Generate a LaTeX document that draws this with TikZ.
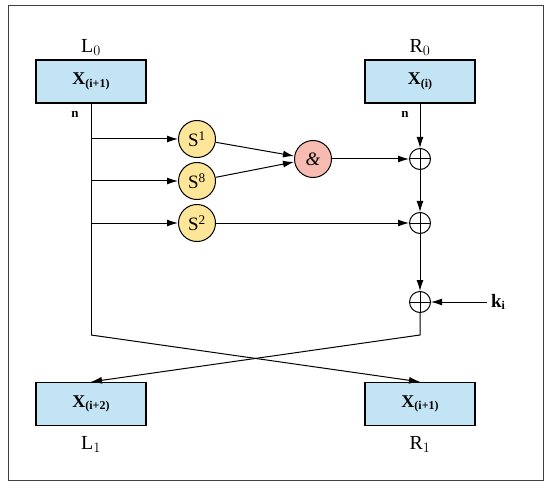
\documentclass[tikz,border=0pt]{standalone}
\usepackage{fontspec}
\setmainfont{Liberation Serif}
\usetikzlibrary{arrows.meta}
\definecolor{wordblue}{RGB}{195,228,245}
\definecolor{sboxyellow}{RGB}{254,230,152}
\definecolor{andpink}{RGB}{247,187,177}
\newcommand{\wsub}[1]{\raisebox{-0.3ex}{\fontsize{12}{14}\selectfont #1}}

\begin{document}
\begin{tikzpicture}[x=1bp, y=-1bp, line width=1bp, >={Latex[length=11bp,width=7bp]},
        word/.style={draw, line width=1.3bp, fill=wordblue, minimum width=110bp, minimum height=43bp,
            font=\fontsize{18}{20}\selectfont\bfseries},
        sbox/.style={draw, circle, fill=sboxyellow, minimum size=37bp, inner sep=0pt,
            font=\fontsize{19}{22}\selectfont},
        andop/.style={sbox, fill=andpink},
        xorop/.style={draw, circle, minimum size=21bp, inner sep=0pt,
            path picture={\draw (path picture bounding box.north) -- (path picture bounding box.south)
                (path picture bounding box.west) -- (path picture bounding box.east);}},
        half/.style={font=\fontsize{20}{23}\selectfont},
        bitlabel/.style={font=\fontsize{13}{15}\selectfont\bfseries}]
        \useasboundingbox (0,0) rectangle (550,491);
        \draw[black!75] (8,6) rectangle (543,480);

        % words
        \node[word] (L0box) at (91,81.5) {X\wsub{(i+1)}};
        \node[word] (R0box) at (420,81.5) {X\wsub{(i)}};
        \node[word] (L1box) at (91,404) {X\wsub{(i+2)}};
        \node[word] (R1box) at (420,404) {X\wsub{(i+1)}};

        \node[half, above=0bp] (L0) at (L0box.north) {$\mathrm{L}_0$};
        \node[half, above=0bp] (R0) at (R0box.north) {$\mathrm{R}_0$};
        \node[half, below=6bp] (L1) at (L1box.south) {$\mathrm{L}_1$};
        \node[half, below=6bp] (R1) at (R1box.south) {$\mathrm{R}_1$};

        \node[bitlabel] (nL) at (75,114) {n};
        \node[bitlabel] (nR) at (405,114) {n};

        % round function
        \node[sbox] (s1) at (197,139) {S\textsuperscript{1}};
        \node[sbox] (s8) at (197,181) {S\textsuperscript{8}};
        \node[sbox] (s2) at (197,223) {S\textsuperscript{2}};
        \node[andop] (and) at (313,159) {\textit{\&}};

        \node[xorop] (x1) at (420,159) {};
        \node[xorop] (x2) at (420,223) {};
        \node[xorop] (x3) at (420,302) {};
        \node[font=\fontsize{19}{22}\selectfont\bfseries] (ki) at (498,302) {k\wsub{i}};

        \coordinate (lturn) at (91,335);
        \coordinate (rturn) at (420,335);

        \draw (L0box.south) -- (lturn);
        \foreach \s in {s1,s8,s2}
            \draw[->] (L0box.south |- \s) -- (\s);
        \draw[->] (s1) -- ([yshift=3bp]and.west);
        \draw[->] (s8) -- ([yshift=-3bp]and.west);
        \draw[->] (and) -- (x1);
        \draw[->] (s2) -- (x2);

        \draw[->] (R0box.south) -- (x1);
        \draw[->] (x1) -- (x2);
        \draw[->] (x2) -- (x3);
        \draw[->] (ki.west) -- (x3);

        % swap
        \draw[->] (lturn) -- (R1box.north);
        \draw[->] (x3) -- (rturn) -- (L1box.north);
    \end{tikzpicture}
\end{document}
